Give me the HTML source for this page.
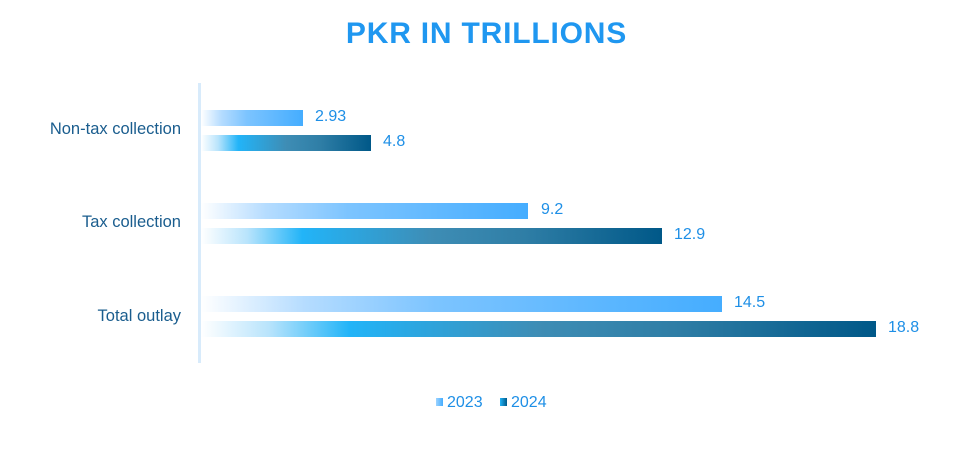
<!DOCTYPE html>
<html><head><meta charset="utf-8"><style>
body{margin:0;background:#fff;width:953px;height:449px;overflow:hidden;font-family:"Liberation Sans",sans-serif;position:relative}
.t{position:absolute;left:0;width:973px;top:17px;text-align:center;font-size:30px;font-weight:bold;color:#1f97f0;letter-spacing:0.8px}
.ax{position:absolute;left:198px;top:83px;width:3px;height:280px;background:#d8ebfb}
.b{position:absolute;left:201px;height:16px}
.a{background:linear-gradient(90deg,#fff 0%,#b5dcff 20%,#7cc4ff 45%,#45adff 100%)}
.c{background:linear-gradient(90deg,#fff 0%,#b9e4fc 10%,#22b4f8 22%,#3e8db5 50%,#2f7ea6 70%,#005888 100%)}
.v{position:absolute;font-size:16px;color:#1e8fe6}
.l{position:absolute;right:772px;font-size:16.5px;color:#1a5d8e;white-space:nowrap}
</style></head><body>
<div class="t">PKR IN TRILLIONS</div>
<div class="ax"></div>
<div class="l" style="top:120px">Non-tax collection</div>
<div class="l" style="top:213px">Tax collection</div>
<div class="l" style="top:307px">Total outlay</div>
<div class="b a" style="top:110px;width:102px"></div><div class="v" style="left:315px;top:108px">2.93</div>
<div class="b c" style="top:135px;width:170px"></div><div class="v" style="left:383px;top:133px">4.8</div>
<div class="b a" style="top:203px;width:327px"></div><div class="v" style="left:541px;top:201px">9.2</div>
<div class="b c" style="top:228px;width:461px"></div><div class="v" style="left:674px;top:226px">12.9</div>
<div class="b a" style="top:296px;width:521px"></div><div class="v" style="left:734px;top:294px">14.5</div>
<div class="b c" style="top:321px;width:675px"></div><div class="v" style="left:888px;top:319px">18.8</div>
<div style="position:absolute;left:436px;top:398px;width:7px;height:8px;background:linear-gradient(90deg,#9dd3ff,#45adff)"></div>
<div class="v" style="left:447px;top:394px">2023</div>
<div style="position:absolute;left:500px;top:398px;width:7px;height:8px;background:linear-gradient(90deg,#22b4f8,#005888)"></div>
<div class="v" style="left:511px;top:394px">2024</div>
</body></html>
